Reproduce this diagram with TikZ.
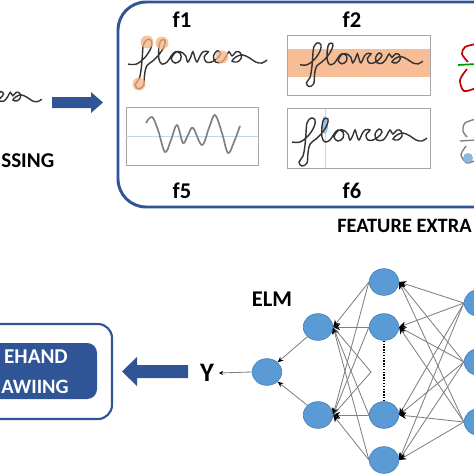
\documentclass[tikz,border=0pt]{standalone}
\usepackage{fontspec}
\setmainfont{Carlito}
\usetikzlibrary{shapes.geometric,arrows.meta}

\definecolor{boxblue}{HTML}{2F5597}
\definecolor{nodeblue}{HTML}{5B9BD5}
\definecolor{nodeedge}{HTML}{4A84BC}
\definecolor{penorange}{HTML}{F4B183}
\definecolor{framegray}{HTML}{A6A6A6}
\definecolor{guideblue}{HTML}{BDD7EE}
\definecolor{inkgray}{HTML}{333333}

% handwritten word, #1 = shift, #2 = scale
\newcommand{\flowerword}[2]{%
  \draw[inkgray,line width=1pt,shift={#1},scale=#2] plot[smooth,tension=0.6] coordinates {
    (0,3) (8,3) (16,-3) (22,-12) (23,-19) (19,-21) (15,-16) (14,-6) (13,6) (11,17)
    (7,23) (10,27) (15,24) (16,14) (18,5) (24,0) (30,-6) (35,-14) (36,-20) (32,-20)
    (30,-13) (30,-2) (33,3) (38,1) (42,-5) (46,-9) (51,-7) (51,-1) (46,2) (42,-2)
    (47,-9) (53,-8) (56,-5) (58,1) (61,-4) (63,-9) (65,-3) (67,1) (70,-5) (73,-9)
    (78,-9) (74,-4) (76,1) (81,1) (86,-2) (90,-7) (87,-10) (83,-5) (85,1) (91,1)
    (95,-4) (98,-9) (101,-5) (105,-9) (109,-8) (110,-3) (106,1) (101,0) (105,-4) (111,-6)
    (118,-3) (124,1) (130,2) (135,-1)};}

\begin{document}
\begin{tikzpicture}[x=0.025cm,y=-0.025cm,>={Stealth[length=5pt,width=4.5pt,black]},
  title/.style={font=\fontsize{15}{17}\selectfont\bfseries},
  flabel/.style={font=\fontsize{16}{18}\selectfont\bfseries},
  neuron/.style={ellipse,fill=nodeblue,draw=nodeedge,line width=0.5pt,
    minimum width=21pt,minimum height=19pt,inner sep=0pt},
  wire/.style={draw=gray,line width=0.6pt,->}]
\clip (0,0) rectangle (474,474);

% preprocessing
\flowerword{(-73,100)}{0.85}
\node[title,anchor=west,inner sep=0pt] (prep) at (1,161) {SSING};
\fill[boxblue] (52,97)--(91,97)--(91,92)--(103,102.5)--(91,113)--(91,108)--(52,108)--cycle;

% feature extraction
\draw[boxblue,line width=2.1pt,rounded corners=20pt] (118,2) rectangle (540,207);
\node[title,anchor=west,inner sep=0pt,font=\fontsize{14.5}{17}\selectfont\bfseries] (featlab) at (337,226) {FEATURE EXTRA};
\node[flabel] (f1) at (182,20) {f1};
\node[flabel] (f2) at (352,20) {f2};
\node[flabel] (f5) at (182,191) {f5};
\node[flabel] (f6) at (352,191) {f6};

\flowerword{(128,61)}{1.03}
\foreach \p in {(147,42),(139,84),(162,43),(222,57)}
  \fill[penorange,opacity=0.75] \p circle (6.5);

\fill[penorange!85] (287,49) rectangle (430,77);
\flowerword{(300,62)}{0.91}
\draw[framegray] (287,35) rectangle (430,95);

\draw[framegray] (126,107) rectangle (258,165);
\draw[guideblue] (126,136) -- (258,136);
\draw[gray,line width=1.2pt] plot[smooth,tension=0.6] coordinates {(146,123) (152,117) (158,130)
  (165,152) (171,140) (177,125) (183,143) (188,135) (193,128) (202,145) (209,128) (215,115)
  (222,133) (228,153) (234,142) (240,126)};

\draw[guideblue] (325,108) -- (325,168);
\fill[nodeblue!60] (325,125) ellipse (3 and 9);
\flowerword{(292,139)}{1}
\draw[framegray] (287,108) rectangle (430,168);

\draw[red!75!black,line width=1.2pt] plot[smooth] coordinates {(476,44) (465,47) (462,54) (468,62)};
\draw[green!60!black,line width=1.2pt] (458,65) -- (476,64);
\draw[red!75!black,line width=1.2pt] plot[smooth] coordinates {(467,69) (460,80) (464,91) (476,88)};
\draw[gray,line width=1pt] plot[smooth] coordinates {(476,119) (465,123) (463,131) (467,137)};
\draw[gray,line width=1pt] (460,141) -- (476,140);
\draw[gray,line width=1pt] plot[smooth] coordinates {(466,146) (461,155) (467,163) (476,160)};
\fill[nodeblue!70] (468,158) circle (5);

% output
\draw[boxblue,line width=1.5pt,rounded corners=10pt] (-20,324) rectangle (112,419);
\fill[boxblue,rounded corners=7pt] (-20,343) rectangle (97,399);
\node[title,text=white,anchor=east,inner sep=0pt,font=\fontsize{15}{17}\selectfont\bfseries] (fh1) at (68,357) {EHAND};
\node[title,text=white,anchor=west,inner sep=0pt,font=\fontsize{14.5}{17}\selectfont\bfseries] (fh2) at (1,387) {AWIING};
\fill[boxblue] (188,365)--(137,365)--(137,357)--(122,371.5)--(137,386)--(137,378)--(188,378)--cycle;
\node[font=\fontsize{19}{21}\selectfont\bfseries] (ylab) at (207,373) {Y};

% ELM
\node[title,font=\fontsize{16}{18}\selectfont\bfseries] (elm) at (272,299) {ELM};
\node[neuron] (out) at (267,372) {};
\node[neuron] (ha) at (318,327) {};
\node[neuron] (hb) at (318,415) {};
\node[neuron] (ga) at (384,282) {};
\node[neuron] (gb) at (384,327) {};
\node[neuron] (gc) at (384,415) {};
\node[neuron] (gd) at (384,460) {};
\node[neuron] (ia) at (479,303) {};
\node[neuron] (ib) at (479,362) {};
\node[neuron] (ic) at (479,422) {};
\coordinate (gap) at (371,372);

\foreach \s in {ia,ib,ic}
  \foreach \t in {ga,gb,gc,gd}
    \draw[wire] (\s.west) -- (\t.east);
\foreach \s in {ga,gb,gc,gd}
  \foreach \t in {ha,hb}
    \draw[wire] (\s.west) -- (\t.east);
\draw[gray,line width=0.6pt] (ha.east) -- (gap) -- (hb.east);
\draw[densely dotted,line width=1pt] (gb) -- (gc);
\draw[wire,>={Stealth[length=4pt,width=3.5pt,black]}] (ha.south west) -- (out.north east);
\draw[wire,>={Stealth[length=4pt,width=3.5pt,black]}] (hb.north west) -- (out.south east);
\draw[wire,>={Stealth[length=3pt,width=3pt,black]}] (out.west) -- (ylab.east);
\end{tikzpicture}
\end{document}
